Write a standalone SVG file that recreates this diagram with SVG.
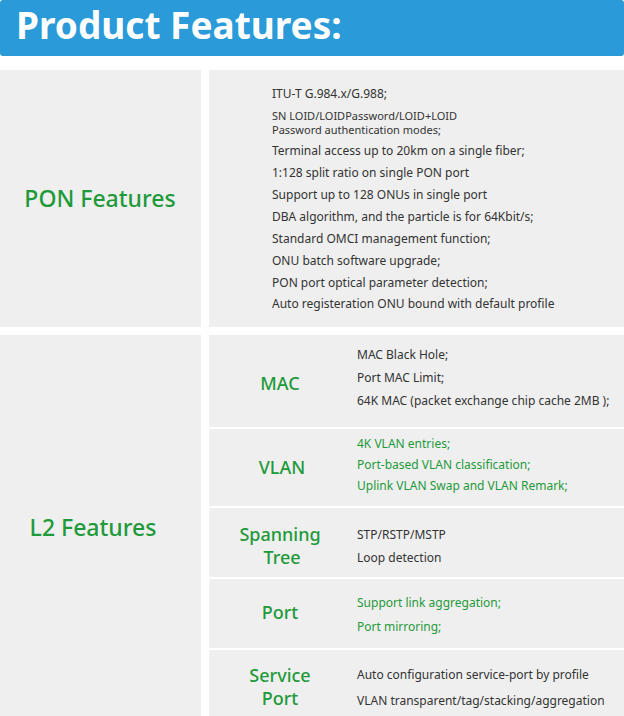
<svg xmlns="http://www.w3.org/2000/svg" width="624" height="716" viewBox="0 0 624 716">
<style>
.c{fill:#efefef}
.t{font-family:"Noto Sans","Open Sans",sans-serif;font-size:12px;fill:#333}
.g{font-family:"Noto Sans","Open Sans",sans-serif;font-size:12px;fill:#1e9a3a}
.h{font-family:"Noto Sans","Open Sans",sans-serif;font-size:23px;fill:#1e9a3a;text-anchor:middle;font-weight:500}
.s{font-size:18px}
</style>
<rect width="624" height="716" fill="#fff"/>
<g id="header"><rect x="0" y="0" width="624" height="56" rx="3" fill="#2a9ad8"/>
<text x="16" y="39" font-family="Noto Sans,Open Sans,sans-serif" font-size="37" font-weight="bold" fill="#fff">Product Features:</text></g>
<g id="pon">
<rect class="c" x="0" y="70" width="201" height="257"/>
<rect class="c" x="209" y="70" width="415" height="257"/>
<text class="h" x="100" y="207">PON Features</text>
<text class="t" x="272" y="98">ITU-T G.984.x/G.988;</text>
<text class="t" x="272" y="120" style="font-size:11px">SN LOID/LOIDPassword/LOID+LOID</text>
<text class="t" x="272" y="134" style="font-size:11px">Password authentication modes;</text>
<text class="t" x="272" y="155">Terminal access up to 20km on a single fiber;</text>
<text class="t" x="272" y="177">1:128 split ratio on single PON port</text>
<text class="t" x="272" y="199">Support up to 128 ONUs in single port</text>
<text class="t" x="272" y="221">DBA algorithm, and the particle is for 64Kbit/s;</text>
<text class="t" x="272" y="243">Standard OMCI management function;</text>
<text class="t" x="272" y="265">ONU batch software upgrade;</text>
<text class="t" x="272" y="287">PON port optical parameter detection;</text>
<text class="t" x="272" y="308">Auto registeration ONU bound with default profile</text>
</g>
<g id="l2"><rect class="c" x="0" y="335" width="201" height="381"/>
<text class="h" x="93" y="536">L2 Features</text></g>
<g id="mac"><rect class="c" x="209" y="335" width="415" height="92"/>
<text class="h s" x="280" y="390">MAC</text>
<text class="t" x="357" y="359">MAC Black Hole;</text>
<text class="t" x="357" y="382">Port MAC Limit;</text>
<text class="t" x="357" y="405">64K MAC (packet exchange chip cache 2MB );</text></g>
<g id="vlan"><rect class="c" x="209" y="429" width="415" height="77"/>
<text class="h s" x="282" y="474">VLAN</text>
<text class="g" x="357" y="448">4K VLAN entries;</text>
<text class="g" x="357" y="469">Port-based VLAN classification;</text>
<text class="g" x="357" y="490">Uplink VLAN Swap and VLAN Remark;</text></g>
<g id="stp"><rect class="c" x="209" y="508" width="415" height="69"/>
<text class="h s" x="280" y="541">Spanning</text>
<text class="h s" x="282" y="564">Tree</text>
<text class="t" x="357" y="539">STP/RSTP/MSTP</text>
<text class="t" x="357" y="562">Loop detection</text></g>
<g id="port"><rect class="c" x="209" y="579" width="415" height="69"/>
<text class="h s" x="280" y="619">Port</text>
<text class="g" x="357" y="607">Support link aggregation;</text>
<text class="g" x="357" y="631">Port mirroring;</text></g>
<g id="svc"><rect class="c" x="209" y="650" width="415" height="66"/>
<text class="h s" x="280" y="682">Service</text>
<text class="h s" x="280" y="705">Port</text>
<text class="t" x="357" y="679">Auto configuration service-port by profile</text>
<text class="t" x="357" y="705">VLAN transparent/tag/stacking/aggregation</text></g>
<g id="connectors"/>
</svg>
